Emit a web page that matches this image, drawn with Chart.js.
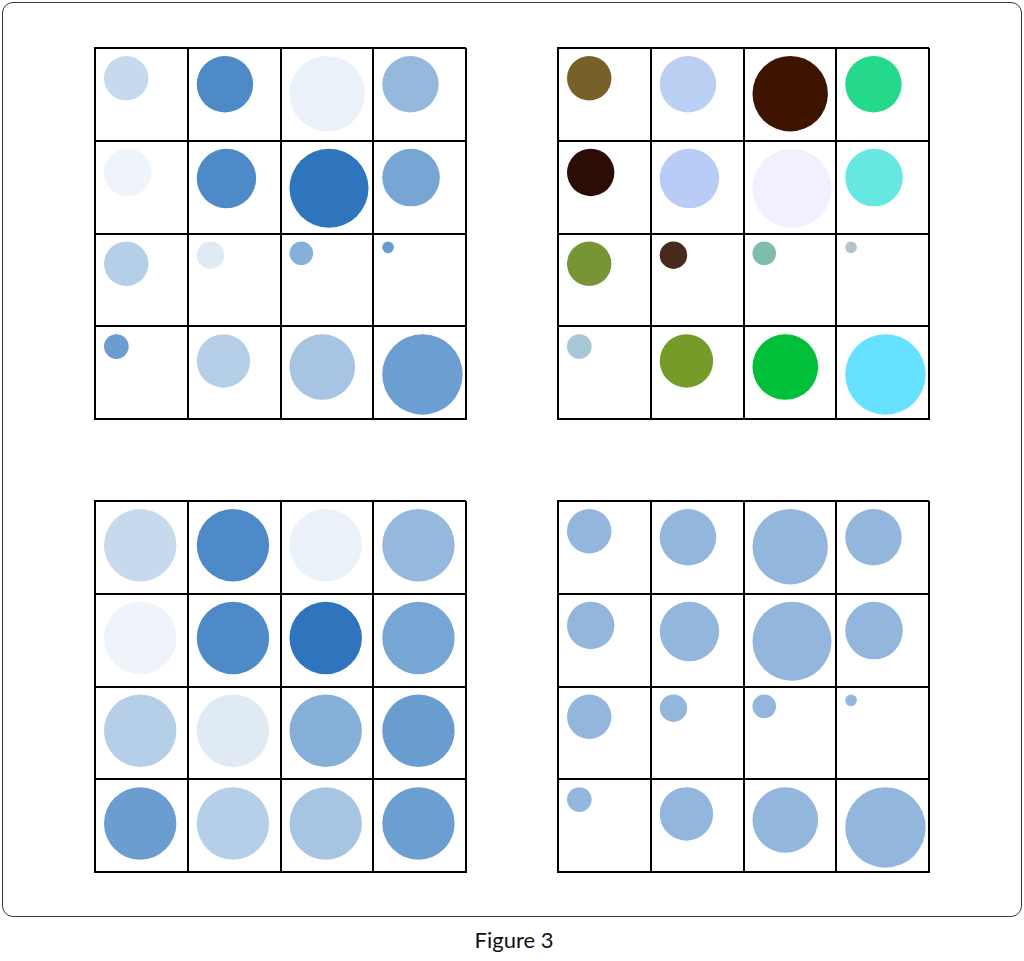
<!DOCTYPE html>
<html>
<head>
<meta charset="utf-8">
<script src="https://cdn.jsdelivr.net/npm/chart.js@4.4.1/dist/chart.umd.min.js"></script>
<style>
  html, body { margin: 0; padding: 0; background: #fff; }
  body { width: 1024px; height: 961px; position: relative; overflow: hidden; }
  .frame {
    position: absolute; left: 2px; top: 2px; width: 1020px; height: 915px;
    box-sizing: border-box; border: 1.5px solid #3a3a3a; border-radius: 11px;
  }
  .panel { position: absolute; }
  .caption {
    position: absolute; left: 0; width: 1028px; top: 926px;
    text-align: center; font-family: "Lato", "Liberation Sans", sans-serif;
    font-size: 22px; color: #111;
  }
</style>
</head>
<body>
<div class="frame"></div>
<div class="panel" style="left:89px;top:42px"><canvas id="sizeShade" width="383" height="383"></canvas></div>
<div class="panel" style="left:552px;top:42px"><canvas id="sizeHue" width="383" height="383"></canvas></div>
<div class="panel" style="left:89px;top:495px"><canvas id="shadeOnly" width="383" height="383"></canvas></div>
<div class="panel" style="left:552px;top:495px"><canvas id="sizeOnly" width="383" height="383"></canvas></div>
<div class="caption">Figure 3</div>

<script>
// 4x4 raster: row/column indices
var rows = [0, 1, 2, 3];
var cols = [0, 1, 2, 3];

// first variable -> circle area (0..100)
var sizeValues = [
  [30.5, 49.2, 88.0, 49.2],
  [34.8, 54.6, 96.5, 51.3],
  [30.5, 11.6,  8.6,  2.1],
  [ 9.4, 44.1, 66.6, 100]
];

// second variable -> blue shade (0..1)
var shadeValues = [
  [0.27, 0.85, 0.10, 0.51],
  [0.08, 0.85, 1.00, 0.65],
  [0.35, 0.15, 0.58, 0.72],
  [0.71, 0.35, 0.42, 0.70]
];

// categorical colour per cell (top right panel)
var hueColors = [
  ['#776128', '#bad0f2', '#3e1400', '#24d98b'],
  ['#2b0d06', '#b8ccf5', '#f2f0fe', '#66e7e1'],
  ['#779534', '#472a1a', '#80bcad', '#b4c3ca'],
  ['#a7c7d4', '#759b29', '#00bf38', '#66e1ff']
];

var MAX_R = 40.2;     // radius of value 100
var FIXED_R = 36.2;   // radius when size is not encoded
var FLAT_BLUE = '#93b6dc';
var PAD_X = 9, PAD_Y = 8;

function radiusOf(v) {
  return MAX_R * Math.sqrt(v / 100);
}

// white -> #2e75bd
function blueOf(t) {
  var r = Math.round(255 + (46 - 255) * t);
  var g = Math.round(255 + (117 - 255) * t);
  var b = Math.round(255 + (189 - 255) * t);
  return 'rgb(' + r + ',' + g + ',' + b + ')';
}

function buildPoints(useSize) {
  var pts = [];
  rows.forEach(function(row) {
    cols.forEach(function(col) {
      pts.push({ x: col, y: row, r: useSize ? radiusOf(sizeValues[row][col]) : FIXED_R });
    });
  });
  return pts;
}

function buildColors(mode) {
  var out = [];
  rows.forEach(function(row) {
    cols.forEach(function(col) {
      if (mode === 'shade') out.push(blueOf(shadeValues[row][col]));
      else if (mode === 'hue') out.push(hueColors[row][col]);
      else out.push(FLAT_BLUE);
    });
  });
  return out;
}

// put each circle in the upper left corner of its cell
var cornerPlugin = {
  id: 'corner',
  afterDatasetsUpdate: function(chart) {
    var xs = chart.scales.x, ys = chart.scales.y;
    var pts = chart.data.datasets[0].data;
    chart.getDatasetMeta(0).data.forEach(function(el, i) {
      el.x = xs.getPixelForValue(pts[i].x) + PAD_X + pts[i].r;
      el.y = ys.getPixelForValue(pts[i].y) + PAD_Y + pts[i].r;
    });
  }
};

function axis(reverse) {
  return {
    type: 'linear', min: 0, max: 4, reverse: reverse,
    ticks: { display: false, stepSize: 1 },
    grid: { color: '#000', lineWidth: 2, drawTicks: false },
    border: { display: true, color: '#000', width: 2 }
  };
}

function makeChart(id, useSize, colorMode) {
  var ctx = document.getElementById(id).getContext('2d');
  return new Chart(ctx, {
    type: 'bubble',
    data: {
      datasets: [{
        data: buildPoints(useSize),
        backgroundColor: buildColors(colorMode),
        borderWidth: 0,
        hoverBorderWidth: 0
      }]
    },
    options: {
      responsive: false,
      animation: false,
      events: [],
      layout: { padding: 6, autoPadding: false },
      plugins: { legend: { display: false }, tooltip: { enabled: false } },
      scales: { x: axis(false), y: axis(true) }
    },
    plugins: [cornerPlugin]
  });
}

makeChart('sizeShade', true, 'shade');
makeChart('sizeHue', true, 'hue');
makeChart('shadeOnly', false, 'shade');
makeChart('sizeOnly', true, 'flat');
</script>
</body>
</html>
